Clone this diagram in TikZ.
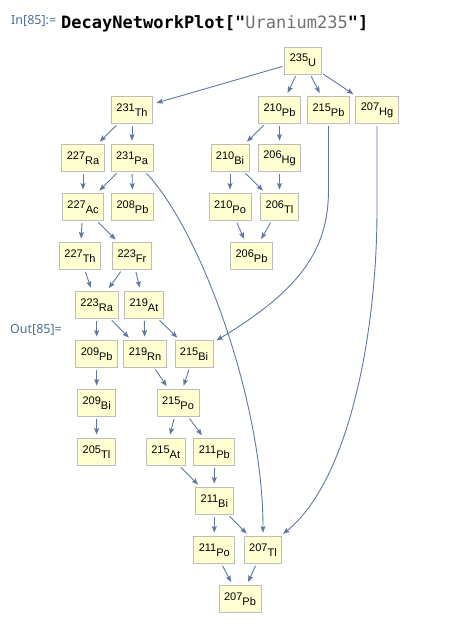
\documentclass[tikz,border=0pt]{standalone}
\usepackage{fontspec}
\usetikzlibrary{arrows.meta}
\newfontfamily\labfont{Liberation Sans}
\newfontfamily\uifont{Noto Sans}
\newfontfamily\codefont{DejaVu Sans Mono}
\definecolor{boxfill}{HTML}{FFFFD2}
\definecolor{boxline}{HTML}{BDBDBD}
\definecolor{edgecol}{HTML}{5F77A3}
\definecolor{promptcol}{HTML}{4A6E9C}
\definecolor{strcol}{HTML}{707070}
\newcommand{\iso}[2]{\raisebox{4.8pt}{#1}#2}
\tikzset{
  iso/.style={draw=boxline, line width=0.8pt, fill=boxfill, minimum height=27pt,
    inner xsep=5pt, inner ysep=0pt, font=\labfont\fontsize{11}{12}\selectfont},
  decay/.style={draw=edgecol, line width=0.9pt,
    -{Stealth[length=6.5pt,width=5pt,inset=1.2pt]}, shorten >=3.5pt, shorten <=2pt},
  prompt/.style={font=\uifont\fontsize{12.5}{14}\selectfont, text=promptcol, inner sep=0pt, anchor=base west}
}
\begin{document}
\begin{tikzpicture}[x=1pt,y=-1pt]
\useasboundingbox (0,0) rectangle (474,642);
% header
\node[prompt] (inlab) at (11,24.3) {In[85]:=};
\node[inner sep=0pt, anchor=base west] (code) at (61,28.5)
  {\codefont\fontsize{17}{20}\selectfont\bfseries DecayNetworkPlot["\textcolor{strcol}{\mdseries Uranium235}"]};
\node[prompt] (outlab) at (10,333) {Out[85]=};
% nodes
\node[iso] (u235)  at (303,60.5) {\iso{235}{U}};
\node[iso] (th231) at (132,110) {\iso{231}{Th}};
\node[iso] (pb210) at (279.5,110) {\iso{210}{Pb}};
\node[iso] (pb215) at (328.5,110) {\iso{215}{Pb}};
\node[iso] (hg207) at (377,110) {\iso{207}{Hg}};
\node[iso] (ra227) at (83,158) {\iso{227}{Ra}};
\node[iso] (pa231) at (132,158) {\iso{231}{Pa}};
\node[iso] (bi210) at (230,158) {\iso{210}{Bi}};
\node[iso] (hg206) at (279.5,158) {\iso{206}{Hg}};
\node[iso] (ac227) at (83,207) {\iso{227}{Ac}};
\node[iso] (pb208) at (132.5,207) {\iso{208}{Pb}};
\node[iso] (po210) at (230,207) {\iso{210}{Po}};
\node[iso] (tl206) at (279.5,207) {\iso{206}{Tl}};
\node[iso] (th227) at (80,256) {\iso{227}{Th}};
\node[iso] (fr223) at (132,256) {\iso{223}{Fr}};
\node[iso] (pb206) at (251.5,256) {\iso{206}{Pb}};
\node[iso] (ra223) at (96.7,305) {\iso{223}{Ra}};
\node[iso] (at219) at (144,305) {\iso{219}{At}};
\node[iso] (pb209) at (96.7,354) {\iso{209}{Pb}};
\node[iso] (rn219) at (145,354) {\iso{219}{Rn}};
\node[iso] (bi215) at (194,354) {\iso{215}{Bi}};
\node[iso] (bi209) at (96.7,403) {\iso{209}{Bi}};
\node[iso] (po215) at (178,403) {\iso{215}{Po}};
\node[iso] (tl205) at (96.5,452) {\iso{205}{Tl}};
\node[iso] (at215) at (165.7,452) {\iso{215}{At}};
\node[iso] (pb211) at (214.3,452) {\iso{211}{Pb}};
\node[iso] (bi211) at (214.3,501) {\iso{211}{Bi}};
\node[iso] (po211) at (214.3,550) {\iso{211}{Po}};
\node[iso] (tl207) at (263,550) {\iso{207}{Tl}};
\node[iso] (pb207) at (240,599) {\iso{207}{Pb}};
% straight edges
\foreach \a/\b in {u235/th231, u235/pb210, u235/pb215, u235/hg207,
  th231/ra227, th231/pa231, pb210/bi210, pb210/hg206,
  pa231/ac227, pa231/pb208, ra227/ac227,
  bi210/po210, bi210/tl206, hg206/tl206,
  ac227/th227, ac227/fr223, po210/pb206, tl206/pb206,
  th227/ra223, fr223/ra223, fr223/at219,
  ra223/pb209, ra223/rn219, at219/rn219, at219/bi215,
  pb209/bi209, bi209/tl205, rn219/po215, bi215/po215,
  po215/at215, po215/pb211, at215/bi211, pb211/bi211,
  bi211/po211, bi211/tl207, po211/pb207, tl207/pb207}
  \draw[decay] (\a) -- (\b);
% curved edges
\draw[decay] (pa231) .. controls (200,230) and (263,400) .. (tl207);
\draw[decay] (pb215) -- (328.5,190) .. controls (328.5,250) and (300,290) .. (bi215);
\draw[decay] (hg207) -- (377,210) .. controls (377,330) and (350,480) .. (tl207);
\end{tikzpicture}
\end{document}
